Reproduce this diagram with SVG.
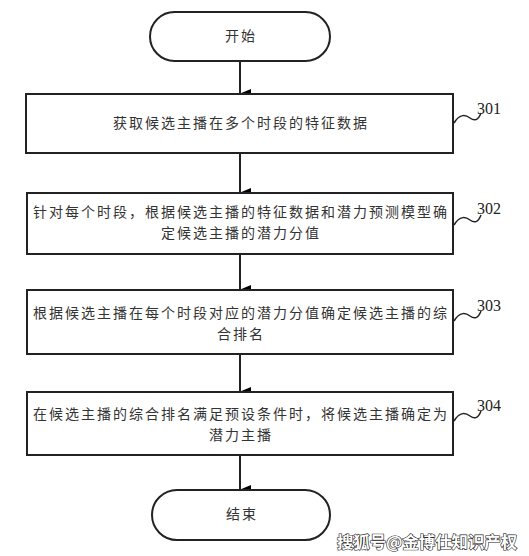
<svg xmlns="http://www.w3.org/2000/svg" width="529" height="556" viewBox="0 0 529 556">
<defs>
<marker id="ah" markerWidth="10" markerHeight="12" refX="5" refY="11" orient="auto" markerUnits="userSpaceOnUse"><path d="M0,0 L10,0 L5,12 Z" fill="#000"/></marker>
<style>
.box{fill:#fff;stroke:#222;stroke-width:2}
.t{font-family:"Noto Sans CJK SC","Liberation Serif",serif;font-size:14px;letter-spacing:2px;fill:#333;text-anchor:middle}
.n{font-family:"Liberation Serif",serif;font-size:16px;fill:#222}
.sq{fill:none;stroke:#222;stroke-width:1.5}
.c{stroke:#222;stroke-width:2;fill:none}
.wm{font-family:"Noto Sans CJK SC",sans-serif;font-size:16px;font-weight:bold;fill:#fff;stroke:#222;stroke-width:1.2;paint-order:stroke}
</style>
</defs>
<rect width="529" height="556" fill="#fff"/>
<g id="connectors">
<line class="c" x1="240" y1="61" x2="240" y2="94" marker-end="url(#ah)"/>
<line class="c" x1="240" y1="153" x2="240" y2="193" marker-end="url(#ah)"/>
<line class="c" x1="240" y1="254" x2="240" y2="290" marker-end="url(#ah)"/>
<line class="c" x1="240" y1="354" x2="240" y2="392" marker-end="url(#ah)"/>
<line class="c" x1="240" y1="455" x2="240" y2="490" marker-end="url(#ah)"/>
</g>
<g id="start">
<rect class="box" x="150" y="12" width="180" height="49" rx="24.5"/>
<text class="t" x="241" y="41">开始</text>
</g>
<g id="s301">
<rect class="box" x="26" y="94" width="427" height="59"/>
<text class="t" x="241" y="128">获取候选主播在多个时段的特征数据</text>
<path class="sq" d="M454,123 C460,113 466,115 470,118 C474,121 478,121 481,113"/>
<text class="n" x="477" y="114">301</text>
</g>
<g id="s302">
<rect class="box" x="27" y="193" width="426" height="61"/>
<text class="t" x="241" y="217">针对每个时段，根据候选主播的特征数据和潜力预测模型确</text>
<text class="t" x="241" y="238">定候选主播的潜力分值</text>
<path class="sq" d="M454,225 C460,215 466,217 470,220 C474,223 478,223 481,215"/>
<text class="n" x="477" y="214">302</text>
</g>
<g id="s303">
<rect class="box" x="27" y="290" width="426" height="64"/>
<text class="t" x="241" y="318">根据候选主播在每个时段对应的潜力分值确定候选主播的综</text>
<text class="t" x="241" y="339">合排名</text>
<path class="sq" d="M454,321 C460,311 466,313 470,316 C474,319 478,319 481,311"/>
<text class="n" x="477" y="311">303</text>
</g>
<g id="s304">
<rect class="box" x="27" y="392" width="426" height="63"/>
<text class="t" x="241" y="419">在候选主播的综合排名满足预设条件时，将候选主播确定为</text>
<text class="t" x="241" y="440">潜力主播</text>
<path class="sq" d="M454,421 C460,411 466,413 470,416 C474,419 478,419 481,411"/>
<text class="n" x="477" y="411">304</text>
</g>
<g id="end">
<rect class="box" x="152" y="490" width="178" height="50" rx="25"/>
<text class="t" x="242" y="519">结束</text>
</g>
<text class="wm" x="337" y="548" textLength="180" lengthAdjust="spacingAndGlyphs">搜狐号@金博仕知识产权</text>
</svg>
